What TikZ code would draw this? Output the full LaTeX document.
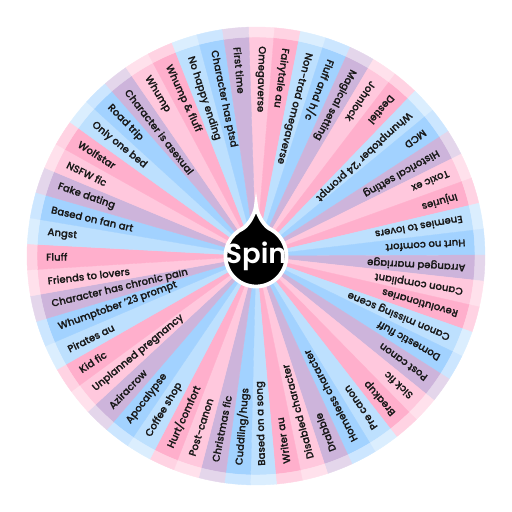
\documentclass[tikz,border=0pt]{standalone}
\usepackage{fontspec}
\setmainfont{Poppins}[UprightFont=* Medium, BoldFont=* SemiBold]
\newfontfamily\spinfont{Poppins SemiBold}
\definecolor{wc0}{HTML}{CDB4DB}
\definecolor{wc1}{HTML}{FFC8DD}
\definecolor{wc2}{HTML}{FFAFCC}
\definecolor{wc3}{HTML}{BDE0FE}
\definecolor{wc4}{HTML}{A2D2FF}

\begin{document}
\begin{tikzpicture}[
      x=1pt, y=1pt,
      slice/.style={line width=0.4pt},
      rim/.style={line width=0.4pt},
      lbl/.style={anchor=west, inner sep=0pt, text=black!90, font=\fontsize{10.1}{12}\selectfont\addfontfeature{FakeBold=0.5}},
      spinbtn/.style={fill=black, draw=white, line width=3.8pt}
    ]
    \useasboundingbox (-256,-256) rectangle (256,256);

    % wheel slices, clockwise from the top
    \foreach \txt [count=\i] in {Omegaverse, Fairytale au, Non-trad omegaverse, Fluff and h/c,
        Magical setting, Johnlock, Destiel, Whumptober '24 prompt, MCD, Historical setting,
        Toxic ex, Injuries, Enemies to lovers, Hurt no comfort, Arranged marriage,
        Canon compliant, Revolutionaries, Canon missing scene, Domestic fluff, Post canon,
        Sick fic, Breakup, Pre canon, Homeless character, Drabble, Disabled character,
        Writer au, Based on a song, Cuddling/hugs, Christmas fic, Post-canon, Hurt/comfort,
        Coffee shop, Apocalypse, Aziracrow, Unplanned pregnancy, Kid fic, Pirates au,
        Whumptober '23 prompt, Character has chronic pain, Friends to lovers, Fluff, Angst,
        Based on fan art, Fake dating, NSFW fic, Wolfstar, Only one bed, Road trip,
        Character is asexual, Whump, Whump \& fluff, No happy ending, Character has ptsd,
        First time}{
      \pgfmathsetmacro\smid{88.6-6.545454*(\i-1)}
      \pgfmathsetmacro\sa{\smid+3.272727}
      \pgfmathsetmacro\sb{\smid-3.272727}
      \pgfmathtruncatemacro\k{mod(\i,5)}
      \filldraw[slice, fill=wc\k, draw=wc\k] (0,0) -- (\sa:219)
        arc[start angle=\sa, end angle=\sb, radius=219] -- cycle;
      \filldraw[rim, fill=wc\k!55!white, draw=wc\k!55!white] (\sa:219)
        arc[start angle=\sa, end angle=\sb, radius=219] -- (\sb:229)
        arc[start angle=\sb, end angle=\sa, radius=229] -- cycle;
      \node[lbl, rotate=\smid+180] (s\i) at (\smid:210) {\txt};
    }

    % spin button
    \path[spinbtn] (0,51) .. controls (0.6,43) and (6.5,32) .. (65:30.5)
      arc[start angle=65, end angle=-245, radius=30.5]
      .. controls (-6.5,32) and (-0.6,43) .. (0,51) -- cycle;
    \node[text=white, font=\spinfont\fontsize{27.5}{30}\selectfont] (spin) at (0,0) {Spin};
  \end{tikzpicture}
\end{document}
